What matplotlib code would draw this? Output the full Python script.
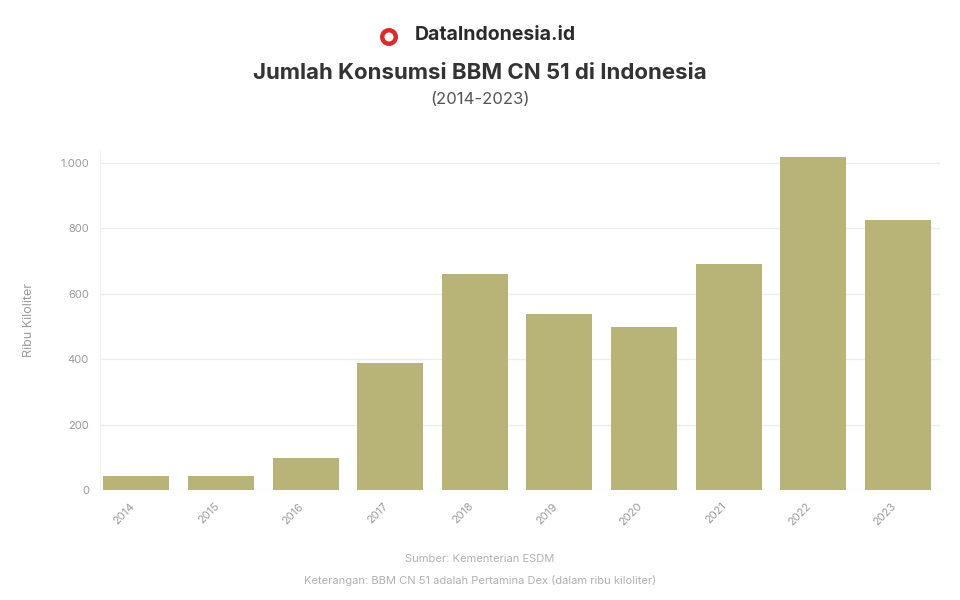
import matplotlib.pyplot as plt
from matplotlib.patches import Ellipse

plt.rcParams['font.family'] = ['Inter', 'DejaVu Sans']

# Data (ribu kiloliter)
years = ['2014', '2015', '2016', '2017', '2018', '2019', '2020', '2021', '2022', '2023']
consumption = [43, 43, 98, 388, 662, 538, 498, 692, 1018, 825]
yticks = [0, 200, 400, 600, 800, 1000]
ytick_labels = ['0', '200', '400', '600', '800', '1.000']

fig = plt.figure(figsize=(9.6, 6), dpi=100)
ax = fig.add_axes([100 / 960, 1 - 490 / 600, 840 / 960, 340 / 600])

x = range(len(years))
ax.bar(x, consumption, width=0.78, color='#b8b478', zorder=3)

ax.set_xlim(-0.43, 9.5)
ax.set_ylim(0, 1040)
ax.set_yticks(yticks)
ax.set_yticklabels(ytick_labels, fontsize=8, color='#9a9a9a')
ax.set_xticks(list(x))
ax.set_xticklabels(years, rotation=45, ha='right', fontsize=8, color='#9a9a9a')
ax.set_ylabel('Ribu Kiloliter', fontsize=9, color='#9a9a9a', labelpad=18)

ax.grid(axis='y', color='#eeeeee', linewidth=1, zorder=0)
for s in ['top', 'right', 'bottom']:
    ax.spines[s].set_visible(False)
ax.spines['left'].set_color('#f2f2f2')
ax.tick_params(length=0, pad=8)

# Header: logo + brand
cx, cy = 389 / 960, 1 - 37 / 600
fig.patches.append(Ellipse((cx, cy), 18 / 960, 18 / 600, transform=fig.transFigure,
                           facecolor='#e02a2a', edgecolor='none'))
fig.patches.append(Ellipse((cx, cy), 9 / 960, 9 / 600, transform=fig.transFigure,
                           facecolor='white', edgecolor='none'))
fig.text(415 / 960, 1 - 35 / 600, 'DataIndonesia.id', fontsize=14, fontweight='bold',
         color='#2b2b2b', ha='left', va='center')
fig.text(0.5, 1 - 73 / 600, 'Jumlah Konsumsi BBM CN 51 di Indonesia', fontsize=16,
         fontweight='bold', color='#333333', ha='center', va='center')
fig.text(0.5, 1 - 100 / 600, '(2014-2023)', fontsize=12, color='#555555', ha='center',
         va='center')

# Footer
fig.text(0.5, 1 - 559 / 600, 'Sumber: Kementerian ESDM', fontsize=8, color='#b0b0b0',
         ha='center', va='center')
fig.text(0.5, 1 - 580 / 600, 'Keterangan: BBM CN 51 adalah Pertamina Dex (dalam ribu kiloliter)',
         fontsize=8, color='#b0b0b0', ha='center', va='center')

fig.savefig('out.png', dpi=100, facecolor='white')
